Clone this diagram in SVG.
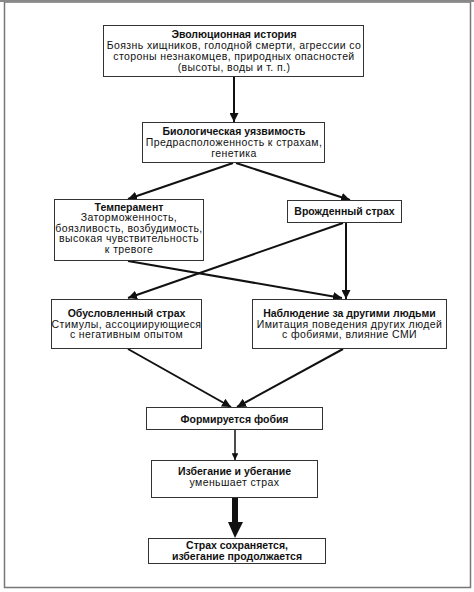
<svg xmlns="http://www.w3.org/2000/svg" width="474" height="592" viewBox="0 0 474 592">
<style>
.box{fill:#fff;stroke:#333;stroke-width:1}
text{font-family:"Liberation Sans",Arial,sans-serif;font-size:10.5px;fill:#111;text-anchor:middle;letter-spacing:0.4px}
.b{font-weight:bold;letter-spacing:0}
.c{stroke:#111;stroke-width:2;fill:none;marker-end:url(#ah)}
</style>
<defs>
<marker id="ah" viewBox="0 0 10 10" refX="10" refY="5" markerWidth="4.5" markerHeight="4.5" orient="auto" markerUnits="strokeWidth">
<path d="M0,0 L10,5 L0,10 Z" fill="#111"/>
</marker>
</defs>
<rect x="0" y="0" width="474" height="592" fill="#fff"/>
<rect x="4.5" y="2" width="466" height="585.5" fill="none" stroke="#777" stroke-width="1.5"/>
<rect x="0" y="0" width="474" height="2" fill="#888"/>
<g id="connectors">
<line class="c" x1="234" y1="77" x2="234" y2="122"/>
<line class="c" x1="233" y1="163" x2="128" y2="199"/>
<line class="c" x1="236" y1="163" x2="350" y2="200"/>
<line class="c" x1="346" y1="223" x2="346" y2="299"/>
<line class="c" x1="343" y1="223" x2="128" y2="298"/>
<line class="c" x1="128" y1="261" x2="342" y2="298"/>
<line class="c" x1="128" y1="349" x2="231" y2="407"/>
<line class="c" x1="343" y1="349" x2="237" y2="407"/>
<line class="c" x1="235" y1="430" x2="235" y2="460" style="stroke-width:1.5"/>
<path d="M232,498 L238,498 L238,522 L243,522 L235,538 L228,522 L232,522 Z" fill="#111"/>
</g>
<g id="n1">
<rect class="box" x="103.5" y="25.5" width="260" height="51"/>
<text class="b" x="234" y="38">Эволюционная история</text>
<text x="234" y="49">Боязнь хищников, голодной смерти, агрессии со</text>
<text x="234" y="60">стороны незнакомцев, природных опасностей</text>
<text x="234" y="71">(высоты, воды и т. п.)</text>
</g>
<g id="n2">
<rect class="box" x="142.5" y="122.5" width="182" height="40"/>
<text class="b" x="234" y="135">Биологическая уязвимость</text>
<text x="234" y="146">Предрасположенность к страхам,</text>
<text x="234" y="157">генетика</text>
</g>
<g id="n3">
<rect class="box" x="54.5" y="199.5" width="149" height="61"/>
<text class="b" x="129" y="210.5">Темперамент</text>
<text x="129" y="221">Заторможенность,</text>
<text x="129" y="231.5">боязливость, возбудимость,</text>
<text x="129" y="242">высокая чувствительность</text>
<text x="129" y="252.5">к тревоге</text>
</g>
<g id="n4">
<rect class="box" x="287.5" y="200.5" width="114" height="22"/>
<text class="b" x="344.5" y="215">Врожденный страх</text>
</g>
<g id="n5">
<rect class="box" x="51.5" y="299.5" width="150" height="49"/>
<text class="b" x="126.5" y="316.5">Обусловленный страх</text>
<text x="126.5" y="327.5">Стимулы, ассоциирующиеся</text>
<text x="126.5" y="338">с негативным опытом</text>
</g>
<g id="n6">
<rect class="box" x="252.5" y="299.5" width="194" height="49"/>
<text class="b" x="349.5" y="316.5">Наблюдение за другими людьми</text>
<text x="349.5" y="327.5">Имитация поведения других людей</text>
<text x="349.5" y="338">с фобиями, влияние СМИ</text>
</g>
<g id="n7">
<rect class="box" x="146.5" y="407.5" width="176" height="22"/>
<text class="b" x="234.5" y="423">Формируется фобия</text>
</g>
<g id="n8">
<rect class="box" x="151.5" y="460.5" width="166" height="37"/>
<text class="b" x="234.5" y="474.5">Избегание и убегание</text>
<text x="234.5" y="485.5">уменьшает страх</text>
</g>
<g id="n9">
<rect class="box" x="148.5" y="538.5" width="177" height="25"/>
<text class="b" x="237" y="549">Страх сохраняется,</text>
<text class="b" x="237" y="560">избегание продолжается</text>
</g>
</svg>
